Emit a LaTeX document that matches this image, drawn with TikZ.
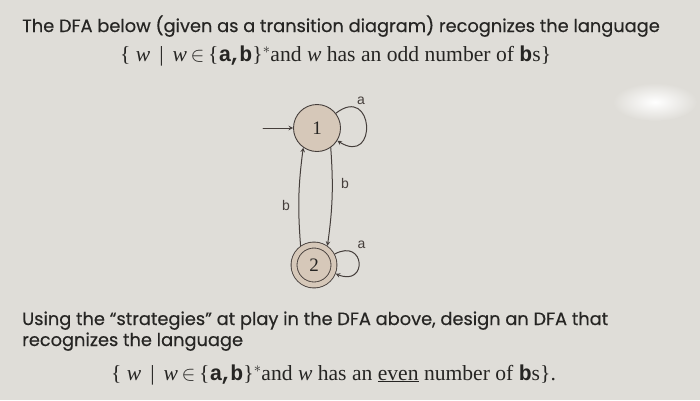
\documentclass[tikz,border=0pt]{standalone}
\usepackage{fontspec}
\setmainfont{Liberation Serif}
\newfontfamily\slidefont[FakeBold=0.4]{Poppins}
\newfontfamily\labelfont{Liberation Sans}
\newfontfamily\symfont{Liberation Mono}
\usetikzlibrary{arrows,positioning}

\definecolor{slidebg}{HTML}{DFDDD8}
\definecolor{statefill}{HTML}{D6C8B9}
\definecolor{ink}{HTML}{262523}
\definecolor{edgeink}{HTML}{453E3B}

\newcommand{\symab}{{\symfont\bfseries a\kern-2.5pt,\kern-2.5pt b}}
\newcommand{\symb}{{\symfont\bfseries b}}

\tikzset{
  slidetext/.style={anchor=base west,text=ink,inner sep=0pt,font=\slidefont\fontsize{17.8}{20}\selectfont},
  langtext/.style={anchor=base west,text=ink,inner sep=0pt,font=\fontsize{21.6}{22}\selectfont},
  statenode/.style={circle,draw=edgeink,fill=statefill,line width=0.9pt,minimum size=47pt,inner sep=0pt,text=ink,font=\fontsize{19}{19}\selectfont},
  finalstate/.style={statenode,double=statefill,double distance=5pt,minimum size=40pt,outer sep=3.4pt},
  trans/.style={->,draw=edgeink,line width=1pt},
  symlabel/.style={text=edgeink,font=\labelfont\fontsize{14}{14}\selectfont}
}

\begin{document}
\begin{tikzpicture}[x=1pt,y=-1pt,>=stealth,line join=round,line cap=round]
    %Nền trang chiếu
    \fill[slidebg] (0,0) rectangle (700,400);
    \useasboundingbox (0,0) rectangle (700,400);
    \shade[inner color=white,outer color=slidebg] (655,102) ellipse (42 and 19);
    %Đề bài
    \node[slidetext] (intro) at (22,32) {The DFA below (given as a transition diagram) recognizes the language};
    \node[langtext] (oddlang) at (120,61) {\{ \textit{w} \,|\, \textit{w}\,$\in$\,\{\symab\}$^*$and \textit{w} has an odd number of \symb s\}};
    %Các trạng thái
    \node[statenode] (q1) at (317,128) {1};
    \node[finalstate] (q2) at (314,265) {2};
    \coordinate (start) at (263,128);
    %Các cung chuyển
    \draw[trans] (start) -- (q1);
    \draw[trans] (q1) to[out=38,in=-32,looseness=4.5] node[symlabel,pos=0.2,above right=-2pt] {a} (q1);
    \draw[trans] (q2) to[out=28,in=-22,looseness=4.5] node[symlabel,pos=0.28,above right=0pt] {a} (q2);
    \draw[trans] (q1.-55) to[bend left=6] node[symlabel,pos=0.35,right=5pt] {b} (q2.55);
    \draw[trans] (q2.125) to[bend left=6] node[symlabel,pos=0.4,left=5pt] {b} (q1.-125);
    %Câu hỏi
    \node[slidetext] (task) at (22,325) {Using the “strategies” at play in the DFA above, design an DFA that};
    \node[slidetext] (task2) at (22,346) {recognizes the language};
    \node[langtext] (evenlang) at (111,380) {\{ \textit{w} \,|\, \textit{w}\,$\in$\,\{\symab\}$^*$and \textit{w} has an \underline{even} number of \symb s\}.};
\end{tikzpicture}
\end{document}
